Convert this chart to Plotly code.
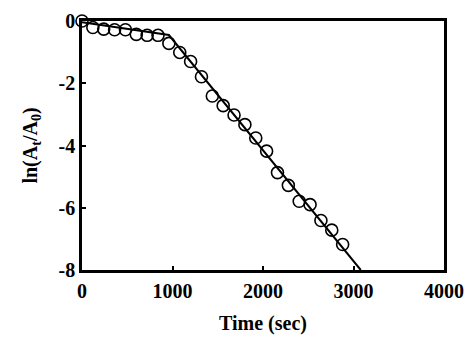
import plotly.graph_objects as go

time_s = [0, 120, 240, 360, 480, 600, 720, 840, 960, 1080, 1200, 1320, 1440,
          1560, 1680, 1800, 1920, 2040, 2160, 2280, 2400, 2520, 2640, 2760, 2880]
ln_ratio = [0.0, -0.21, -0.26, -0.28, -0.28, -0.43, -0.46, -0.46, -0.72, -1.01,
            -1.30, -1.79, -2.41, -2.72, -3.02, -3.33, -3.76, -4.18, -4.87, -5.28,
            -5.79, -5.90, -6.41, -6.72, -7.18]

fit_x = [0, 960, 3080]
fit_y = [-0.04, -0.45, -8.0]

x_ticks = [0, 1000, 2000, 3000, 4000]
x_ticktext = ["0", "1000", "2000", "3000", "4000"]
y_ticks = [0, -2, -4, -6, -8]
y_ticktext = ["0", "-2", "-4", "-6", "-8"]

FONT = "Liberation Serif"

fig = go.Figure()
fig.add_trace(go.Scatter(x=fit_x, y=fit_y, mode="lines",
                         line=dict(color="black", width=2), showlegend=False))
fig.add_trace(go.Scatter(x=time_s, y=ln_ratio, mode="markers", cliponaxis=False,
                         marker=dict(symbol="circle-open", size=12, color="black",
                                     line=dict(width=1.6, color="black")),
                         showlegend=False))

fig.update_layout(
    width=474, height=348,
    margin=dict(l=82, r=30, t=10, b=78),
    plot_bgcolor="white", paper_bgcolor="white",
    font=dict(family=FONT, size=20, color="black", weight="bold"),
    xaxis=dict(range=[0, 4000], tickvals=x_ticks, ticktext=x_ticktext,
               showgrid=False, zeroline=False, showline=True, linecolor="black",
               linewidth=2.5, mirror=True, ticks="inside", ticklen=4,
               tickwidth=1.5, tickcolor="black", ticklabelstandoff=1,
               tickfont=dict(family=FONT, size=20, weight="bold"),
               title=dict(text="Time (sec)", standoff=16,
                          font=dict(family=FONT, size=20, weight="bold"))),
    yaxis=dict(range=[-8, 0], tickvals=y_ticks, ticktext=y_ticktext,
               showgrid=False, zeroline=False, showline=True, linecolor="black",
               linewidth=2.5, mirror=True, ticks="inside", ticklen=4,
               tickwidth=1.5, tickcolor="black",
               tickfont=dict(family=FONT, size=20, weight="bold"),
               title=dict(text="ln(A<sub>t</sub>/A<sub>0</sub>)", standoff=16,
                          font=dict(family=FONT, size=20, weight="bold"))),
)

fig.write_html("out.html")
